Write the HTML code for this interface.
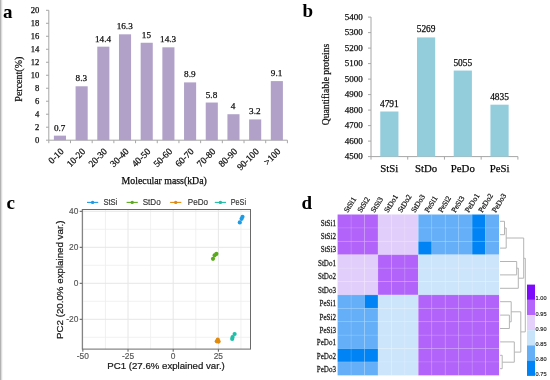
<!DOCTYPE html>
<html><head><meta charset="utf-8"><style>
html,body{margin:0;padding:0;background:#fff;width:550px;height:380px;overflow:hidden}
svg{display:block;will-change:transform}
text[font-family*="Serif"]{stroke:#1a1a1a;stroke-width:0.25px}
text[font-weight]{stroke:none}
</style></head><body>
<svg width="550" height="380" viewBox="0 0 550 380">
<rect width="550" height="380" fill="#fff"/>
<rect x="0" y="0" width="1" height="380" fill="#b3b3b3"/>
<rect x="1" y="0" width="1" height="380" fill="#dcdcdc"/>
<rect x="2" y="0" width="1" height="380" fill="#f6f6f6"/>
<text x="3" y="17.8" font-family='"Liberation Serif", serif' font-weight="bold" font-size="19">a</text>
<line x1="48.8" y1="10.3" x2="48.8" y2="140.2" stroke="#a6a6a6" stroke-width="1"/>
<line x1="48.8" y1="140.2" x2="287.4" y2="140.2" stroke="#a6a6a6" stroke-width="1"/>
<line x1="46" y1="140.2" x2="48.8" y2="140.2" stroke="#a6a6a6"/>
<text x="39.3" y="142.8" text-anchor="end" font-family='"Liberation Serif", serif' font-size="8.6">0</text>
<line x1="46" y1="127.21" x2="48.8" y2="127.21" stroke="#a6a6a6"/>
<text x="39.3" y="129.81" text-anchor="end" font-family='"Liberation Serif", serif' font-size="8.6">2</text>
<line x1="46" y1="114.22" x2="48.8" y2="114.22" stroke="#a6a6a6"/>
<text x="39.3" y="116.82" text-anchor="end" font-family='"Liberation Serif", serif' font-size="8.6">4</text>
<line x1="46" y1="101.23" x2="48.8" y2="101.23" stroke="#a6a6a6"/>
<text x="39.3" y="103.83" text-anchor="end" font-family='"Liberation Serif", serif' font-size="8.6">6</text>
<line x1="46" y1="88.24" x2="48.8" y2="88.24" stroke="#a6a6a6"/>
<text x="39.3" y="90.84" text-anchor="end" font-family='"Liberation Serif", serif' font-size="8.6">8</text>
<line x1="46" y1="75.25" x2="48.8" y2="75.25" stroke="#a6a6a6"/>
<text x="39.3" y="77.85" text-anchor="end" font-family='"Liberation Serif", serif' font-size="8.6">10</text>
<line x1="46" y1="62.26" x2="48.8" y2="62.26" stroke="#a6a6a6"/>
<text x="39.3" y="64.86" text-anchor="end" font-family='"Liberation Serif", serif' font-size="8.6">12</text>
<line x1="46" y1="49.27" x2="48.8" y2="49.27" stroke="#a6a6a6"/>
<text x="39.3" y="51.87" text-anchor="end" font-family='"Liberation Serif", serif' font-size="8.6">14</text>
<line x1="46" y1="36.28" x2="48.8" y2="36.28" stroke="#a6a6a6"/>
<text x="39.3" y="38.88" text-anchor="end" font-family='"Liberation Serif", serif' font-size="8.6">16</text>
<line x1="46" y1="23.29" x2="48.8" y2="23.29" stroke="#a6a6a6"/>
<text x="39.3" y="25.89" text-anchor="end" font-family='"Liberation Serif", serif' font-size="8.6">18</text>
<line x1="46" y1="10.3" x2="48.8" y2="10.3" stroke="#a6a6a6"/>
<text x="39.3" y="12.9" text-anchor="end" font-family='"Liberation Serif", serif' font-size="8.6">20</text>
<line x1="48.8" y1="140.2" x2="48.8" y2="143.2" stroke="#a6a6a6"/>
<line x1="70.49" y1="140.2" x2="70.49" y2="143.2" stroke="#a6a6a6"/>
<line x1="92.18" y1="140.2" x2="92.18" y2="143.2" stroke="#a6a6a6"/>
<line x1="113.87" y1="140.2" x2="113.87" y2="143.2" stroke="#a6a6a6"/>
<line x1="135.56" y1="140.2" x2="135.56" y2="143.2" stroke="#a6a6a6"/>
<line x1="157.25" y1="140.2" x2="157.25" y2="143.2" stroke="#a6a6a6"/>
<line x1="178.95" y1="140.2" x2="178.95" y2="143.2" stroke="#a6a6a6"/>
<line x1="200.64" y1="140.2" x2="200.64" y2="143.2" stroke="#a6a6a6"/>
<line x1="222.33" y1="140.2" x2="222.33" y2="143.2" stroke="#a6a6a6"/>
<line x1="244.02" y1="140.2" x2="244.02" y2="143.2" stroke="#a6a6a6"/>
<line x1="265.71" y1="140.2" x2="265.71" y2="143.2" stroke="#a6a6a6"/>
<line x1="287.4" y1="140.2" x2="287.4" y2="143.2" stroke="#a6a6a6"/>
<rect x="53.9" y="135.65" width="12.1" height="4.55" fill="#b1a1c9"/>
<text x="59.65" y="130.65" text-anchor="middle" font-family='"Liberation Serif", serif' font-size="9.2">0.7</text>
<text transform="translate(64.25,152) rotate(-45)" text-anchor="end" font-family='"Liberation Serif", serif' font-size="9.4">0-10</text>
<rect x="75.59" y="86.29" width="12.1" height="53.91" fill="#b1a1c9"/>
<text x="81.34" y="81.29" text-anchor="middle" font-family='"Liberation Serif", serif' font-size="9.2">8.3</text>
<text transform="translate(85.94,152) rotate(-45)" text-anchor="end" font-family='"Liberation Serif", serif' font-size="9.4">10-20</text>
<rect x="97.28" y="46.67" width="12.1" height="93.53" fill="#b1a1c9"/>
<text x="103.03" y="41.67" text-anchor="middle" font-family='"Liberation Serif", serif' font-size="9.2">14.4</text>
<text transform="translate(107.63,152) rotate(-45)" text-anchor="end" font-family='"Liberation Serif", serif' font-size="9.4">20-30</text>
<rect x="118.97" y="34.33" width="12.1" height="105.87" fill="#b1a1c9"/>
<text x="124.72" y="29.33" text-anchor="middle" font-family='"Liberation Serif", serif' font-size="9.2">16.3</text>
<text transform="translate(129.32,152) rotate(-45)" text-anchor="end" font-family='"Liberation Serif", serif' font-size="9.4">30-40</text>
<rect x="140.66" y="42.77" width="12.1" height="97.42" fill="#b1a1c9"/>
<text x="146.41" y="37.77" text-anchor="middle" font-family='"Liberation Serif", serif' font-size="9.2">15</text>
<text transform="translate(151.01,152) rotate(-45)" text-anchor="end" font-family='"Liberation Serif", serif' font-size="9.4">40-50</text>
<rect x="162.35" y="47.32" width="12.1" height="92.88" fill="#b1a1c9"/>
<text x="168.1" y="42.32" text-anchor="middle" font-family='"Liberation Serif", serif' font-size="9.2">14.3</text>
<text transform="translate(172.7,152) rotate(-45)" text-anchor="end" font-family='"Liberation Serif", serif' font-size="9.4">50-60</text>
<rect x="184.04" y="82.39" width="12.1" height="57.81" fill="#b1a1c9"/>
<text x="189.79" y="77.39" text-anchor="middle" font-family='"Liberation Serif", serif' font-size="9.2">8.9</text>
<text transform="translate(194.39,152) rotate(-45)" text-anchor="end" font-family='"Liberation Serif", serif' font-size="9.4">60-70</text>
<rect x="205.73" y="102.53" width="12.1" height="37.67" fill="#b1a1c9"/>
<text x="211.48" y="97.53" text-anchor="middle" font-family='"Liberation Serif", serif' font-size="9.2">5.8</text>
<text transform="translate(216.08,152) rotate(-45)" text-anchor="end" font-family='"Liberation Serif", serif' font-size="9.4">70-80</text>
<rect x="227.42" y="114.22" width="12.1" height="25.98" fill="#b1a1c9"/>
<text x="233.17" y="109.22" text-anchor="middle" font-family='"Liberation Serif", serif' font-size="9.2">4</text>
<text transform="translate(237.77,152) rotate(-45)" text-anchor="end" font-family='"Liberation Serif", serif' font-size="9.4">80-90</text>
<rect x="249.11" y="119.42" width="12.1" height="20.78" fill="#b1a1c9"/>
<text x="254.86" y="114.42" text-anchor="middle" font-family='"Liberation Serif", serif' font-size="9.2">3.2</text>
<text transform="translate(259.46,152) rotate(-45)" text-anchor="end" font-family='"Liberation Serif", serif' font-size="9.4">90-100</text>
<rect x="270.8" y="81.1" width="12.1" height="59.1" fill="#b1a1c9"/>
<text x="276.55" y="76.1" text-anchor="middle" font-family='"Liberation Serif", serif' font-size="9.2">9.1</text>
<text transform="translate(281.15,152) rotate(-45)" text-anchor="end" font-family='"Liberation Serif", serif' font-size="9.4">&gt;100</text>
<text x="164.2" y="183.5" text-anchor="middle" font-family='"Liberation Serif", serif' font-size="9.8">Molecular mass(kDa)</text>
<text transform="translate(21.8,79.2) rotate(-90)" text-anchor="middle" font-family='"Liberation Serif", serif' font-size="10">Percent(%)</text>
<text x="302.5" y="17.2" font-family='"Liberation Serif", serif' font-weight="bold" font-size="19">b</text>
<line x1="371" y1="17" x2="371" y2="156.6" stroke="#a6a6a6"/>
<line x1="371" y1="156.6" x2="517.9" y2="156.6" stroke="#a6a6a6"/>
<line x1="368" y1="156.6" x2="371" y2="156.6" stroke="#a6a6a6"/>
<text x="362.8" y="159.3" text-anchor="end" font-family='"Liberation Serif", serif' font-size="9">4500</text>
<line x1="368" y1="141.1" x2="371" y2="141.1" stroke="#a6a6a6"/>
<text x="362.8" y="143.8" text-anchor="end" font-family='"Liberation Serif", serif' font-size="9">4600</text>
<line x1="368" y1="125.6" x2="371" y2="125.6" stroke="#a6a6a6"/>
<text x="362.8" y="128.3" text-anchor="end" font-family='"Liberation Serif", serif' font-size="9">4700</text>
<line x1="368" y1="110.1" x2="371" y2="110.1" stroke="#a6a6a6"/>
<text x="362.8" y="112.8" text-anchor="end" font-family='"Liberation Serif", serif' font-size="9">4800</text>
<line x1="368" y1="94.6" x2="371" y2="94.6" stroke="#a6a6a6"/>
<text x="362.8" y="97.3" text-anchor="end" font-family='"Liberation Serif", serif' font-size="9">4900</text>
<line x1="368" y1="79.1" x2="371" y2="79.1" stroke="#a6a6a6"/>
<text x="362.8" y="81.8" text-anchor="end" font-family='"Liberation Serif", serif' font-size="9">5000</text>
<line x1="368" y1="63.6" x2="371" y2="63.6" stroke="#a6a6a6"/>
<text x="362.8" y="66.3" text-anchor="end" font-family='"Liberation Serif", serif' font-size="9">5100</text>
<line x1="368" y1="48.1" x2="371" y2="48.1" stroke="#a6a6a6"/>
<text x="362.8" y="50.8" text-anchor="end" font-family='"Liberation Serif", serif' font-size="9">5200</text>
<line x1="368" y1="32.6" x2="371" y2="32.6" stroke="#a6a6a6"/>
<text x="362.8" y="35.3" text-anchor="end" font-family='"Liberation Serif", serif' font-size="9">5300</text>
<line x1="368" y1="17.1" x2="371" y2="17.1" stroke="#a6a6a6"/>
<text x="362.8" y="19.8" text-anchor="end" font-family='"Liberation Serif", serif' font-size="9">5400</text>
<line x1="371" y1="156.6" x2="371" y2="159.6" stroke="#a6a6a6"/>
<line x1="407.73" y1="156.6" x2="407.73" y2="159.6" stroke="#a6a6a6"/>
<line x1="444.45" y1="156.6" x2="444.45" y2="159.6" stroke="#a6a6a6"/>
<line x1="481.17" y1="156.6" x2="481.17" y2="159.6" stroke="#a6a6a6"/>
<line x1="517.9" y1="156.6" x2="517.9" y2="159.6" stroke="#a6a6a6"/>
<rect x="380.26" y="111.5" width="18.2" height="45.1" fill="#93cddc"/>
<text x="389.36" y="106.5" text-anchor="middle" font-family='"Liberation Serif", serif' font-size="9.4">4791</text>
<text x="389.36" y="172" text-anchor="middle" font-family='"Liberation Serif", serif' font-size="10.8">StSi</text>
<rect x="416.99" y="37.41" width="18.2" height="119.19" fill="#93cddc"/>
<text x="426.09" y="32.41" text-anchor="middle" font-family='"Liberation Serif", serif' font-size="9.4">5269</text>
<text x="426.09" y="172" text-anchor="middle" font-family='"Liberation Serif", serif' font-size="10.8">StDo</text>
<rect x="453.71" y="70.57" width="18.2" height="86.03" fill="#93cddc"/>
<text x="462.81" y="65.57" text-anchor="middle" font-family='"Liberation Serif", serif' font-size="9.4">5055</text>
<text x="462.81" y="172" text-anchor="middle" font-family='"Liberation Serif", serif' font-size="10.8">PeDo</text>
<rect x="490.44" y="104.67" width="18.2" height="51.92" fill="#93cddc"/>
<text x="499.54" y="99.67" text-anchor="middle" font-family='"Liberation Serif", serif' font-size="9.4">4835</text>
<text x="499.54" y="172" text-anchor="middle" font-family='"Liberation Serif", serif' font-size="10.8">PeSi</text>
<text transform="translate(328.6,84.4) rotate(-90)" text-anchor="middle" font-family='"Liberation Serif", serif' font-size="9.65">Quantifiable proteins</text>
<text x="6.5" y="209" font-family='"Liberation Serif", serif' font-weight="bold" font-size="19">c</text>
<rect x="82.3" y="209.5" width="168.2" height="139.6" fill="#fff"/>
<line x1="105.44" y1="209.5" x2="105.44" y2="349.1" stroke="#eeeeee" stroke-width="0.8"/>
<line x1="150.61" y1="209.5" x2="150.61" y2="349.1" stroke="#eeeeee" stroke-width="0.8"/>
<line x1="195.79" y1="209.5" x2="195.79" y2="349.1" stroke="#eeeeee" stroke-width="0.8"/>
<line x1="240.96" y1="209.5" x2="240.96" y2="349.1" stroke="#eeeeee" stroke-width="0.8"/>
<line x1="82.3" y1="337.3" x2="250.5" y2="337.3" stroke="#eeeeee" stroke-width="0.8"/>
<line x1="82.3" y1="301.3" x2="250.5" y2="301.3" stroke="#eeeeee" stroke-width="0.8"/>
<line x1="82.3" y1="265.3" x2="250.5" y2="265.3" stroke="#eeeeee" stroke-width="0.8"/>
<line x1="82.3" y1="229.3" x2="250.5" y2="229.3" stroke="#eeeeee" stroke-width="0.8"/>
<line x1="82.85" y1="209.5" x2="82.85" y2="349.1" stroke="#e6e6e6" stroke-width="1"/>
<line x1="82.85" y1="349.1" x2="82.85" y2="351.70000000000005" stroke="#555"/>
<text x="82.85" y="359" text-anchor="middle" font-family='"Liberation Sans", sans-serif' font-size="8.4" fill="#555" stroke="#555" stroke-width="0.15">-50</text>
<line x1="128.02" y1="209.5" x2="128.02" y2="349.1" stroke="#e6e6e6" stroke-width="1"/>
<line x1="128.02" y1="349.1" x2="128.02" y2="351.70000000000005" stroke="#555"/>
<text x="128.02" y="359" text-anchor="middle" font-family='"Liberation Sans", sans-serif' font-size="8.4" fill="#555" stroke="#555" stroke-width="0.15">-25</text>
<line x1="173.2" y1="209.5" x2="173.2" y2="349.1" stroke="#e6e6e6" stroke-width="1"/>
<line x1="173.2" y1="349.1" x2="173.2" y2="351.70000000000005" stroke="#555"/>
<text x="173.2" y="359" text-anchor="middle" font-family='"Liberation Sans", sans-serif' font-size="8.4" fill="#555" stroke="#555" stroke-width="0.15">0</text>
<line x1="218.38" y1="209.5" x2="218.38" y2="349.1" stroke="#e6e6e6" stroke-width="1"/>
<line x1="218.38" y1="349.1" x2="218.38" y2="351.70000000000005" stroke="#555"/>
<text x="218.38" y="359" text-anchor="middle" font-family='"Liberation Sans", sans-serif' font-size="8.4" fill="#555" stroke="#555" stroke-width="0.15">25</text>
<line x1="82.3" y1="319.3" x2="250.5" y2="319.3" stroke="#e6e6e6" stroke-width="1"/>
<line x1="79.7" y1="319.3" x2="82.3" y2="319.3" stroke="#555"/>
<text x="78.3" y="322.3" text-anchor="end" font-family='"Liberation Sans", sans-serif' font-size="8.4" fill="#555" stroke="#555" stroke-width="0.15">-20</text>
<line x1="82.3" y1="283.3" x2="250.5" y2="283.3" stroke="#e6e6e6" stroke-width="1"/>
<line x1="79.7" y1="283.3" x2="82.3" y2="283.3" stroke="#555"/>
<text x="78.3" y="286.3" text-anchor="end" font-family='"Liberation Sans", sans-serif' font-size="8.4" fill="#555" stroke="#555" stroke-width="0.15">0</text>
<line x1="82.3" y1="247.3" x2="250.5" y2="247.3" stroke="#e6e6e6" stroke-width="1"/>
<line x1="79.7" y1="247.3" x2="82.3" y2="247.3" stroke="#555"/>
<text x="78.3" y="250.3" text-anchor="end" font-family='"Liberation Sans", sans-serif' font-size="8.4" fill="#555" stroke="#555" stroke-width="0.15">20</text>
<line x1="82.3" y1="211.3" x2="250.5" y2="211.3" stroke="#e6e6e6" stroke-width="1"/>
<line x1="79.7" y1="211.3" x2="82.3" y2="211.3" stroke="#555"/>
<text x="78.3" y="214.3" text-anchor="end" font-family='"Liberation Sans", sans-serif' font-size="8.4" fill="#555" stroke="#555" stroke-width="0.15">40</text>
<rect x="82.3" y="209.5" width="168.2" height="139.6" fill="none" stroke="#6a6a6a" stroke-width="1"/>
<circle cx="242.5" cy="216.8" r="2.1" fill="#1c9be6"/>
<circle cx="241.6" cy="218.8" r="2.1" fill="#1c9be6"/>
<circle cx="239.8" cy="222.4" r="2.1" fill="#1c9be6"/>
<circle cx="216.4" cy="253.8" r="2.1" fill="#5aab1c"/>
<circle cx="214.6" cy="255.3" r="2.1" fill="#5aab1c"/>
<circle cx="213" cy="258.8" r="2.1" fill="#5aab1c"/>
<circle cx="217.8" cy="339.7" r="2.1" fill="#e08b0c"/>
<circle cx="216.8" cy="341.3" r="2.1" fill="#e08b0c"/>
<circle cx="218.6" cy="341.6" r="2.1" fill="#e08b0c"/>
<circle cx="234.6" cy="334" r="2.1" fill="#1cbfa8"/>
<circle cx="232.6" cy="337" r="2.1" fill="#1cbfa8"/>
<circle cx="232.2" cy="338.9" r="2.1" fill="#1cbfa8"/>
<line x1="87" y1="202.4" x2="98.2" y2="202.4" stroke="#1c9be6" stroke-width="1.1"/>
<circle cx="92.6" cy="202.4" r="1.7" fill="#1c9be6"/>
<text x="103.4" y="205.3" font-family='"Liberation Sans", sans-serif' font-size="9" fill="#333" stroke="#333" stroke-width="0.15" textLength="13.9" lengthAdjust="spacingAndGlyphs">StSi</text>
<line x1="126.6" y1="202.4" x2="137.8" y2="202.4" stroke="#5aab1c" stroke-width="1.1"/>
<circle cx="132.2" cy="202.4" r="1.7" fill="#5aab1c"/>
<text x="142.7" y="205.3" font-family='"Liberation Sans", sans-serif' font-size="9" fill="#333" stroke="#333" stroke-width="0.15" textLength="18" lengthAdjust="spacingAndGlyphs">StDo</text>
<line x1="170.1" y1="202.4" x2="181.3" y2="202.4" stroke="#e08b0c" stroke-width="1.1"/>
<circle cx="175.7" cy="202.4" r="1.7" fill="#e08b0c"/>
<text x="187.8" y="205.3" font-family='"Liberation Sans", sans-serif' font-size="9" fill="#333" stroke="#333" stroke-width="0.15" textLength="20.2" lengthAdjust="spacingAndGlyphs">PeDo</text>
<line x1="214.8" y1="202.4" x2="226" y2="202.4" stroke="#1cbfa8" stroke-width="1.1"/>
<circle cx="220.4" cy="202.4" r="1.7" fill="#1cbfa8"/>
<text x="230.7" y="205.3" font-family='"Liberation Sans", sans-serif' font-size="9" fill="#333" stroke="#333" stroke-width="0.15" textLength="15.3" lengthAdjust="spacingAndGlyphs">PeSi</text>
<text x="107.3" y="368.8" font-family='"Liberation Sans", sans-serif' font-size="9.4" fill="#1a1a1a" stroke="#1a1a1a" stroke-width="0.22" textLength="117.5" lengthAdjust="spacingAndGlyphs">PC1 (27.6% explained var.)</text>
<text transform="translate(63.2,279.7) rotate(-90)" text-anchor="middle" font-family='"Liberation Sans", sans-serif' font-size="9.3" fill="#1a1a1a" stroke="#1a1a1a" stroke-width="0.22" textLength="118.5" lengthAdjust="spacingAndGlyphs">PC2 (20.0% explained var.)</text>
<text x="301.5" y="208.9" font-family='"Liberation Serif", serif' font-weight="bold" font-size="19">d</text>
<rect x="337.6" y="214.5" width="13.5" height="13.45" fill="#b264fa"/>
<rect x="351.05" y="214.5" width="13.5" height="13.45" fill="#b264fa"/>
<rect x="364.5" y="214.5" width="13.5" height="13.45" fill="#b264fa"/>
<rect x="377.95" y="214.5" width="13.5" height="13.45" fill="#e2cefa"/>
<rect x="391.4" y="214.5" width="13.5" height="13.45" fill="#e2cefa"/>
<rect x="404.85" y="214.5" width="13.5" height="13.45" fill="#e2cefa"/>
<rect x="418.3" y="214.5" width="13.5" height="13.45" fill="#64aff8"/>
<rect x="431.75" y="214.5" width="13.5" height="13.45" fill="#64aff8"/>
<rect x="445.2" y="214.5" width="13.5" height="13.45" fill="#64aff8"/>
<rect x="458.65" y="214.5" width="13.5" height="13.45" fill="#64aff8"/>
<rect x="472.1" y="214.5" width="13.5" height="13.45" fill="#0084f5"/>
<rect x="485.55" y="214.5" width="13.5" height="13.45" fill="#64aff8"/>
<rect x="337.6" y="227.9" width="13.5" height="13.45" fill="#b264fa"/>
<rect x="351.05" y="227.9" width="13.5" height="13.45" fill="#b264fa"/>
<rect x="364.5" y="227.9" width="13.5" height="13.45" fill="#b264fa"/>
<rect x="377.95" y="227.9" width="13.5" height="13.45" fill="#e2cefa"/>
<rect x="391.4" y="227.9" width="13.5" height="13.45" fill="#e2cefa"/>
<rect x="404.85" y="227.9" width="13.5" height="13.45" fill="#e2cefa"/>
<rect x="418.3" y="227.9" width="13.5" height="13.45" fill="#64aff8"/>
<rect x="431.75" y="227.9" width="13.5" height="13.45" fill="#64aff8"/>
<rect x="445.2" y="227.9" width="13.5" height="13.45" fill="#64aff8"/>
<rect x="458.65" y="227.9" width="13.5" height="13.45" fill="#64aff8"/>
<rect x="472.1" y="227.9" width="13.5" height="13.45" fill="#0084f5"/>
<rect x="485.55" y="227.9" width="13.5" height="13.45" fill="#64aff8"/>
<rect x="337.6" y="241.3" width="13.5" height="13.45" fill="#b264fa"/>
<rect x="351.05" y="241.3" width="13.5" height="13.45" fill="#b264fa"/>
<rect x="364.5" y="241.3" width="13.5" height="13.45" fill="#b264fa"/>
<rect x="377.95" y="241.3" width="13.5" height="13.45" fill="#e2cefa"/>
<rect x="391.4" y="241.3" width="13.5" height="13.45" fill="#e2cefa"/>
<rect x="404.85" y="241.3" width="13.5" height="13.45" fill="#e2cefa"/>
<rect x="418.3" y="241.3" width="13.5" height="13.45" fill="#0084f5"/>
<rect x="431.75" y="241.3" width="13.5" height="13.45" fill="#64aff8"/>
<rect x="445.2" y="241.3" width="13.5" height="13.45" fill="#64aff8"/>
<rect x="458.65" y="241.3" width="13.5" height="13.45" fill="#64aff8"/>
<rect x="472.1" y="241.3" width="13.5" height="13.45" fill="#0084f5"/>
<rect x="485.55" y="241.3" width="13.5" height="13.45" fill="#64aff8"/>
<rect x="337.6" y="254.7" width="13.5" height="13.45" fill="#e2cefa"/>
<rect x="351.05" y="254.7" width="13.5" height="13.45" fill="#e2cefa"/>
<rect x="364.5" y="254.7" width="13.5" height="13.45" fill="#e2cefa"/>
<rect x="377.95" y="254.7" width="13.5" height="13.45" fill="#b264fa"/>
<rect x="391.4" y="254.7" width="13.5" height="13.45" fill="#b264fa"/>
<rect x="404.85" y="254.7" width="13.5" height="13.45" fill="#b264fa"/>
<rect x="418.3" y="254.7" width="13.5" height="13.45" fill="#cce5fb"/>
<rect x="431.75" y="254.7" width="13.5" height="13.45" fill="#cce5fb"/>
<rect x="445.2" y="254.7" width="13.5" height="13.45" fill="#cce5fb"/>
<rect x="458.65" y="254.7" width="13.5" height="13.45" fill="#cce5fb"/>
<rect x="472.1" y="254.7" width="13.5" height="13.45" fill="#cce5fb"/>
<rect x="485.55" y="254.7" width="13.5" height="13.45" fill="#cce5fb"/>
<rect x="337.6" y="268.1" width="13.5" height="13.45" fill="#e2cefa"/>
<rect x="351.05" y="268.1" width="13.5" height="13.45" fill="#e2cefa"/>
<rect x="364.5" y="268.1" width="13.5" height="13.45" fill="#e2cefa"/>
<rect x="377.95" y="268.1" width="13.5" height="13.45" fill="#b264fa"/>
<rect x="391.4" y="268.1" width="13.5" height="13.45" fill="#b264fa"/>
<rect x="404.85" y="268.1" width="13.5" height="13.45" fill="#b264fa"/>
<rect x="418.3" y="268.1" width="13.5" height="13.45" fill="#cce5fb"/>
<rect x="431.75" y="268.1" width="13.5" height="13.45" fill="#cce5fb"/>
<rect x="445.2" y="268.1" width="13.5" height="13.45" fill="#cce5fb"/>
<rect x="458.65" y="268.1" width="13.5" height="13.45" fill="#cce5fb"/>
<rect x="472.1" y="268.1" width="13.5" height="13.45" fill="#cce5fb"/>
<rect x="485.55" y="268.1" width="13.5" height="13.45" fill="#cce5fb"/>
<rect x="337.6" y="281.5" width="13.5" height="13.45" fill="#e2cefa"/>
<rect x="351.05" y="281.5" width="13.5" height="13.45" fill="#e2cefa"/>
<rect x="364.5" y="281.5" width="13.5" height="13.45" fill="#e2cefa"/>
<rect x="377.95" y="281.5" width="13.5" height="13.45" fill="#b264fa"/>
<rect x="391.4" y="281.5" width="13.5" height="13.45" fill="#b264fa"/>
<rect x="404.85" y="281.5" width="13.5" height="13.45" fill="#b264fa"/>
<rect x="418.3" y="281.5" width="13.5" height="13.45" fill="#cce5fb"/>
<rect x="431.75" y="281.5" width="13.5" height="13.45" fill="#cce5fb"/>
<rect x="445.2" y="281.5" width="13.5" height="13.45" fill="#cce5fb"/>
<rect x="458.65" y="281.5" width="13.5" height="13.45" fill="#cce5fb"/>
<rect x="472.1" y="281.5" width="13.5" height="13.45" fill="#cce5fb"/>
<rect x="485.55" y="281.5" width="13.5" height="13.45" fill="#cce5fb"/>
<rect x="337.6" y="294.9" width="13.5" height="13.45" fill="#64aff8"/>
<rect x="351.05" y="294.9" width="13.5" height="13.45" fill="#64aff8"/>
<rect x="364.5" y="294.9" width="13.5" height="13.45" fill="#0084f5"/>
<rect x="377.95" y="294.9" width="13.5" height="13.45" fill="#cce5fb"/>
<rect x="391.4" y="294.9" width="13.5" height="13.45" fill="#cce5fb"/>
<rect x="404.85" y="294.9" width="13.5" height="13.45" fill="#cce5fb"/>
<rect x="418.3" y="294.9" width="13.5" height="13.45" fill="#b264fa"/>
<rect x="431.75" y="294.9" width="13.5" height="13.45" fill="#b264fa"/>
<rect x="445.2" y="294.9" width="13.5" height="13.45" fill="#b264fa"/>
<rect x="458.65" y="294.9" width="13.5" height="13.45" fill="#b264fa"/>
<rect x="472.1" y="294.9" width="13.5" height="13.45" fill="#b264fa"/>
<rect x="485.55" y="294.9" width="13.5" height="13.45" fill="#b264fa"/>
<rect x="337.6" y="308.3" width="13.5" height="13.45" fill="#64aff8"/>
<rect x="351.05" y="308.3" width="13.5" height="13.45" fill="#64aff8"/>
<rect x="364.5" y="308.3" width="13.5" height="13.45" fill="#64aff8"/>
<rect x="377.95" y="308.3" width="13.5" height="13.45" fill="#cce5fb"/>
<rect x="391.4" y="308.3" width="13.5" height="13.45" fill="#cce5fb"/>
<rect x="404.85" y="308.3" width="13.5" height="13.45" fill="#cce5fb"/>
<rect x="418.3" y="308.3" width="13.5" height="13.45" fill="#b264fa"/>
<rect x="431.75" y="308.3" width="13.5" height="13.45" fill="#b264fa"/>
<rect x="445.2" y="308.3" width="13.5" height="13.45" fill="#b264fa"/>
<rect x="458.65" y="308.3" width="13.5" height="13.45" fill="#b264fa"/>
<rect x="472.1" y="308.3" width="13.5" height="13.45" fill="#b264fa"/>
<rect x="485.55" y="308.3" width="13.5" height="13.45" fill="#b264fa"/>
<rect x="337.6" y="321.7" width="13.5" height="13.45" fill="#64aff8"/>
<rect x="351.05" y="321.7" width="13.5" height="13.45" fill="#64aff8"/>
<rect x="364.5" y="321.7" width="13.5" height="13.45" fill="#64aff8"/>
<rect x="377.95" y="321.7" width="13.5" height="13.45" fill="#cce5fb"/>
<rect x="391.4" y="321.7" width="13.5" height="13.45" fill="#cce5fb"/>
<rect x="404.85" y="321.7" width="13.5" height="13.45" fill="#cce5fb"/>
<rect x="418.3" y="321.7" width="13.5" height="13.45" fill="#b264fa"/>
<rect x="431.75" y="321.7" width="13.5" height="13.45" fill="#b264fa"/>
<rect x="445.2" y="321.7" width="13.5" height="13.45" fill="#b264fa"/>
<rect x="458.65" y="321.7" width="13.5" height="13.45" fill="#b264fa"/>
<rect x="472.1" y="321.7" width="13.5" height="13.45" fill="#b264fa"/>
<rect x="485.55" y="321.7" width="13.5" height="13.45" fill="#b264fa"/>
<rect x="337.6" y="335.1" width="13.5" height="13.45" fill="#64aff8"/>
<rect x="351.05" y="335.1" width="13.5" height="13.45" fill="#64aff8"/>
<rect x="364.5" y="335.1" width="13.5" height="13.45" fill="#64aff8"/>
<rect x="377.95" y="335.1" width="13.5" height="13.45" fill="#cce5fb"/>
<rect x="391.4" y="335.1" width="13.5" height="13.45" fill="#cce5fb"/>
<rect x="404.85" y="335.1" width="13.5" height="13.45" fill="#cce5fb"/>
<rect x="418.3" y="335.1" width="13.5" height="13.45" fill="#b264fa"/>
<rect x="431.75" y="335.1" width="13.5" height="13.45" fill="#b264fa"/>
<rect x="445.2" y="335.1" width="13.5" height="13.45" fill="#b264fa"/>
<rect x="458.65" y="335.1" width="13.5" height="13.45" fill="#b264fa"/>
<rect x="472.1" y="335.1" width="13.5" height="13.45" fill="#b264fa"/>
<rect x="485.55" y="335.1" width="13.5" height="13.45" fill="#b264fa"/>
<rect x="337.6" y="348.5" width="13.5" height="13.45" fill="#0084f5"/>
<rect x="351.05" y="348.5" width="13.5" height="13.45" fill="#0084f5"/>
<rect x="364.5" y="348.5" width="13.5" height="13.45" fill="#0084f5"/>
<rect x="377.95" y="348.5" width="13.5" height="13.45" fill="#cce5fb"/>
<rect x="391.4" y="348.5" width="13.5" height="13.45" fill="#cce5fb"/>
<rect x="404.85" y="348.5" width="13.5" height="13.45" fill="#cce5fb"/>
<rect x="418.3" y="348.5" width="13.5" height="13.45" fill="#b264fa"/>
<rect x="431.75" y="348.5" width="13.5" height="13.45" fill="#b264fa"/>
<rect x="445.2" y="348.5" width="13.5" height="13.45" fill="#b264fa"/>
<rect x="458.65" y="348.5" width="13.5" height="13.45" fill="#b264fa"/>
<rect x="472.1" y="348.5" width="13.5" height="13.45" fill="#b264fa"/>
<rect x="485.55" y="348.5" width="13.5" height="13.45" fill="#b264fa"/>
<rect x="337.6" y="361.9" width="13.5" height="13.45" fill="#64aff8"/>
<rect x="351.05" y="361.9" width="13.5" height="13.45" fill="#64aff8"/>
<rect x="364.5" y="361.9" width="13.5" height="13.45" fill="#64aff8"/>
<rect x="377.95" y="361.9" width="13.5" height="13.45" fill="#cce5fb"/>
<rect x="391.4" y="361.9" width="13.5" height="13.45" fill="#cce5fb"/>
<rect x="404.85" y="361.9" width="13.5" height="13.45" fill="#cce5fb"/>
<rect x="418.3" y="361.9" width="13.5" height="13.45" fill="#b264fa"/>
<rect x="431.75" y="361.9" width="13.5" height="13.45" fill="#b264fa"/>
<rect x="445.2" y="361.9" width="13.5" height="13.45" fill="#b264fa"/>
<rect x="458.65" y="361.9" width="13.5" height="13.45" fill="#b264fa"/>
<rect x="472.1" y="361.9" width="13.5" height="13.45" fill="#b264fa"/>
<rect x="485.55" y="361.9" width="13.5" height="13.45" fill="#b264fa"/>
<line x1="351.05" y1="214.5" x2="351.05" y2="375.3" stroke="#fff" stroke-opacity="0.13" stroke-width="1"/>
<line x1="337.6" y1="227.9" x2="499" y2="227.9" stroke="#fff" stroke-opacity="0.13" stroke-width="1"/>
<line x1="364.5" y1="214.5" x2="364.5" y2="375.3" stroke="#fff" stroke-opacity="0.13" stroke-width="1"/>
<line x1="337.6" y1="241.3" x2="499" y2="241.3" stroke="#fff" stroke-opacity="0.13" stroke-width="1"/>
<line x1="377.95" y1="214.5" x2="377.95" y2="375.3" stroke="#fff" stroke-opacity="0.13" stroke-width="1"/>
<line x1="337.6" y1="254.7" x2="499" y2="254.7" stroke="#fff" stroke-opacity="0.13" stroke-width="1"/>
<line x1="391.4" y1="214.5" x2="391.4" y2="375.3" stroke="#fff" stroke-opacity="0.13" stroke-width="1"/>
<line x1="337.6" y1="268.1" x2="499" y2="268.1" stroke="#fff" stroke-opacity="0.13" stroke-width="1"/>
<line x1="404.85" y1="214.5" x2="404.85" y2="375.3" stroke="#fff" stroke-opacity="0.13" stroke-width="1"/>
<line x1="337.6" y1="281.5" x2="499" y2="281.5" stroke="#fff" stroke-opacity="0.13" stroke-width="1"/>
<line x1="418.3" y1="214.5" x2="418.3" y2="375.3" stroke="#fff" stroke-opacity="0.13" stroke-width="1"/>
<line x1="337.6" y1="294.9" x2="499" y2="294.9" stroke="#fff" stroke-opacity="0.13" stroke-width="1"/>
<line x1="431.75" y1="214.5" x2="431.75" y2="375.3" stroke="#fff" stroke-opacity="0.13" stroke-width="1"/>
<line x1="337.6" y1="308.3" x2="499" y2="308.3" stroke="#fff" stroke-opacity="0.13" stroke-width="1"/>
<line x1="445.2" y1="214.5" x2="445.2" y2="375.3" stroke="#fff" stroke-opacity="0.13" stroke-width="1"/>
<line x1="337.6" y1="321.7" x2="499" y2="321.7" stroke="#fff" stroke-opacity="0.13" stroke-width="1"/>
<line x1="458.65" y1="214.5" x2="458.65" y2="375.3" stroke="#fff" stroke-opacity="0.13" stroke-width="1"/>
<line x1="337.6" y1="335.1" x2="499" y2="335.1" stroke="#fff" stroke-opacity="0.13" stroke-width="1"/>
<line x1="472.1" y1="214.5" x2="472.1" y2="375.3" stroke="#fff" stroke-opacity="0.13" stroke-width="1"/>
<line x1="337.6" y1="348.5" x2="499" y2="348.5" stroke="#fff" stroke-opacity="0.13" stroke-width="1"/>
<line x1="485.55" y1="214.5" x2="485.55" y2="375.3" stroke="#fff" stroke-opacity="0.13" stroke-width="1"/>
<line x1="337.6" y1="361.9" x2="499" y2="361.9" stroke="#fff" stroke-opacity="0.13" stroke-width="1"/>
<text transform="translate(336,226) scale(0.84,1)" text-anchor="end" font-family='"Liberation Serif", serif' font-size="8.4" fill="#222">StSi1</text>
<text transform="translate(347.73,213.1) rotate(-58)" font-family='"Liberation Serif", serif' font-size="7.6" fill="#222">StSi1</text>
<text transform="translate(336,239.1) scale(0.84,1)" text-anchor="end" font-family='"Liberation Serif", serif' font-size="8.4" fill="#222">StSi2</text>
<text transform="translate(361.18,213.1) rotate(-58)" font-family='"Liberation Serif", serif' font-size="7.6" fill="#222">StSi2</text>
<text transform="translate(336,252.3) scale(0.84,1)" text-anchor="end" font-family='"Liberation Serif", serif' font-size="8.4" fill="#222">StSi3</text>
<text transform="translate(374.62,213.1) rotate(-58)" font-family='"Liberation Serif", serif' font-size="7.6" fill="#222">StSi3</text>
<text transform="translate(336,266.1) scale(0.84,1)" text-anchor="end" font-family='"Liberation Serif", serif' font-size="8.4" fill="#222">StDo1</text>
<text transform="translate(388.07,213.1) rotate(-58)" font-family='"Liberation Serif", serif' font-size="7.6" fill="#222">StDo1</text>
<text transform="translate(336,279.4) scale(0.84,1)" text-anchor="end" font-family='"Liberation Serif", serif' font-size="8.4" fill="#222">StDo2</text>
<text transform="translate(401.52,213.1) rotate(-58)" font-family='"Liberation Serif", serif' font-size="7.6" fill="#222">StDo2</text>
<text transform="translate(336,292.6) scale(0.84,1)" text-anchor="end" font-family='"Liberation Serif", serif' font-size="8.4" fill="#222">StDo3</text>
<text transform="translate(414.98,213.1) rotate(-58)" font-family='"Liberation Serif", serif' font-size="7.6" fill="#222">StDo3</text>
<text transform="translate(336,306.2) scale(0.84,1)" text-anchor="end" font-family='"Liberation Serif", serif' font-size="8.4" fill="#222">PeSi1</text>
<text transform="translate(428.43,213.1) rotate(-58)" font-family='"Liberation Serif", serif' font-size="7.6" fill="#222">PeSi1</text>
<text transform="translate(336,319.6) scale(0.84,1)" text-anchor="end" font-family='"Liberation Serif", serif' font-size="8.4" fill="#222">PeSi2</text>
<text transform="translate(441.88,213.1) rotate(-58)" font-family='"Liberation Serif", serif' font-size="7.6" fill="#222">PeSi2</text>
<text transform="translate(336,332.9) scale(0.84,1)" text-anchor="end" font-family='"Liberation Serif", serif' font-size="8.4" fill="#222">PeSi3</text>
<text transform="translate(455.32,213.1) rotate(-58)" font-family='"Liberation Serif", serif' font-size="7.6" fill="#222">PeSi3</text>
<text transform="translate(336,345.1) scale(0.84,1)" text-anchor="end" font-family='"Liberation Serif", serif' font-size="8.4" fill="#222">PeDo1</text>
<text transform="translate(468.77,213.1) rotate(-58)" font-family='"Liberation Serif", serif' font-size="7.6" fill="#222">PeDo1</text>
<text transform="translate(336,358.6) scale(0.84,1)" text-anchor="end" font-family='"Liberation Serif", serif' font-size="8.4" fill="#222">PeDo2</text>
<text transform="translate(482.23,213.1) rotate(-58)" font-family='"Liberation Serif", serif' font-size="7.6" fill="#222">PeDo2</text>
<text transform="translate(336,371.7) scale(0.84,1)" text-anchor="end" font-family='"Liberation Serif", serif' font-size="8.4" fill="#222">PeDo3</text>
<text transform="translate(495.67,213.1) rotate(-58)" font-family='"Liberation Serif", serif' font-size="7.6" fill="#222">PeDo3</text>
<line x1="500" y1="221.3" x2="504.5" y2="221.3" stroke="#b4b4b4" stroke-width="1"/>
<line x1="500" y1="234.7" x2="504.5" y2="234.7" stroke="#b4b4b4" stroke-width="1"/>
<line x1="504.5" y1="221.3" x2="504.5" y2="234.7" stroke="#b4b4b4" stroke-width="1"/>
<line x1="504.5" y1="228" x2="506.2" y2="228" stroke="#b4b4b4" stroke-width="1"/>
<line x1="500" y1="248.1" x2="506.2" y2="248.1" stroke="#b4b4b4" stroke-width="1"/>
<line x1="506.2" y1="228" x2="506.2" y2="248.1" stroke="#b4b4b4" stroke-width="1"/>
<line x1="506.2" y1="238" x2="523.7" y2="238" stroke="#b4b4b4" stroke-width="1"/>
<line x1="500" y1="261.5" x2="516.7" y2="261.5" stroke="#b4b4b4" stroke-width="1"/>
<line x1="500" y1="274.9" x2="516.7" y2="274.9" stroke="#b4b4b4" stroke-width="1"/>
<line x1="516.7" y1="261.5" x2="516.7" y2="274.9" stroke="#b4b4b4" stroke-width="1"/>
<line x1="516.7" y1="268.2" x2="518.3" y2="268.2" stroke="#b4b4b4" stroke-width="1"/>
<line x1="500" y1="288.3" x2="518.3" y2="288.3" stroke="#b4b4b4" stroke-width="1"/>
<line x1="518.3" y1="268.2" x2="518.3" y2="288.3" stroke="#b4b4b4" stroke-width="1"/>
<line x1="518.3" y1="278.2" x2="523.7" y2="278.2" stroke="#b4b4b4" stroke-width="1"/>
<line x1="523.7" y1="238" x2="523.7" y2="278.2" stroke="#b4b4b4" stroke-width="1"/>
<line x1="523.7" y1="258.3" x2="525.3" y2="258.3" stroke="#b4b4b4" stroke-width="1"/>
<line x1="500" y1="301.7" x2="511.2" y2="301.7" stroke="#b4b4b4" stroke-width="1"/>
<line x1="500" y1="315.1" x2="509.4" y2="315.1" stroke="#b4b4b4" stroke-width="1"/>
<line x1="500" y1="328.5" x2="509.4" y2="328.5" stroke="#b4b4b4" stroke-width="1"/>
<line x1="509.4" y1="315.1" x2="509.4" y2="328.5" stroke="#b4b4b4" stroke-width="1"/>
<line x1="509.4" y1="321.8" x2="511.2" y2="321.8" stroke="#b4b4b4" stroke-width="1"/>
<line x1="511.2" y1="301.7" x2="511.2" y2="321.8" stroke="#b4b4b4" stroke-width="1"/>
<line x1="511.2" y1="311.8" x2="520.8" y2="311.8" stroke="#b4b4b4" stroke-width="1"/>
<line x1="500" y1="341.9" x2="514.3" y2="341.9" stroke="#b4b4b4" stroke-width="1"/>
<line x1="500" y1="355.3" x2="502.2" y2="355.3" stroke="#b4b4b4" stroke-width="1"/>
<line x1="500" y1="368.7" x2="502.2" y2="368.7" stroke="#b4b4b4" stroke-width="1"/>
<line x1="502.2" y1="355.3" x2="502.2" y2="368.7" stroke="#b4b4b4" stroke-width="1"/>
<line x1="502.2" y1="362.2" x2="514.3" y2="362.2" stroke="#b4b4b4" stroke-width="1"/>
<line x1="514.3" y1="341.9" x2="514.3" y2="362.2" stroke="#b4b4b4" stroke-width="1"/>
<line x1="514.3" y1="352.1" x2="520.8" y2="352.1" stroke="#b4b4b4" stroke-width="1"/>
<line x1="520.8" y1="311.8" x2="520.8" y2="352.1" stroke="#b4b4b4" stroke-width="1"/>
<line x1="520.8" y1="331.9" x2="525.3" y2="331.9" stroke="#b4b4b4" stroke-width="1"/>
<line x1="525.3" y1="258.3" x2="525.3" y2="331.9" stroke="#b4b4b4" stroke-width="1"/>
<rect x="527" y="284.6" width="8" height="15.3" fill="#7d0afa"/>
<text x="535.6" y="300.3" font-family='"Liberation Sans", sans-serif' font-size="5.9" fill="#222" stroke="#222" stroke-width="0.15" textLength="10.9" lengthAdjust="spacingAndGlyphs">1.00</text>
<rect x="527" y="299.8" width="8" height="15.3" fill="#b464fa"/>
<text x="535.6" y="315.5" font-family='"Liberation Sans", sans-serif' font-size="5.9" fill="#222" stroke="#222" stroke-width="0.15" textLength="10.9" lengthAdjust="spacingAndGlyphs">0.95</text>
<rect x="527" y="315" width="8" height="15.3" fill="#e4d0fa"/>
<text x="535.6" y="330.7" font-family='"Liberation Sans", sans-serif' font-size="5.9" fill="#222" stroke="#222" stroke-width="0.15" textLength="10.9" lengthAdjust="spacingAndGlyphs">0.90</text>
<rect x="527" y="330.2" width="8" height="15.3" fill="#c8e4fa"/>
<text x="535.6" y="345.9" font-family='"Liberation Sans", sans-serif' font-size="5.9" fill="#222" stroke="#222" stroke-width="0.15" textLength="10.9" lengthAdjust="spacingAndGlyphs">0.85</text>
<rect x="527" y="345.4" width="8" height="15.3" fill="#64aff5"/>
<text x="535.6" y="361.1" font-family='"Liberation Sans", sans-serif' font-size="5.9" fill="#222" stroke="#222" stroke-width="0.15" textLength="10.9" lengthAdjust="spacingAndGlyphs">0.80</text>
<rect x="527" y="360.6" width="8" height="15.3" fill="#0084f5"/>
<text x="535.6" y="376.3" font-family='"Liberation Sans", sans-serif' font-size="5.9" fill="#222" stroke="#222" stroke-width="0.15" textLength="10.9" lengthAdjust="spacingAndGlyphs">0.75</text>
</svg>
</body></html>
